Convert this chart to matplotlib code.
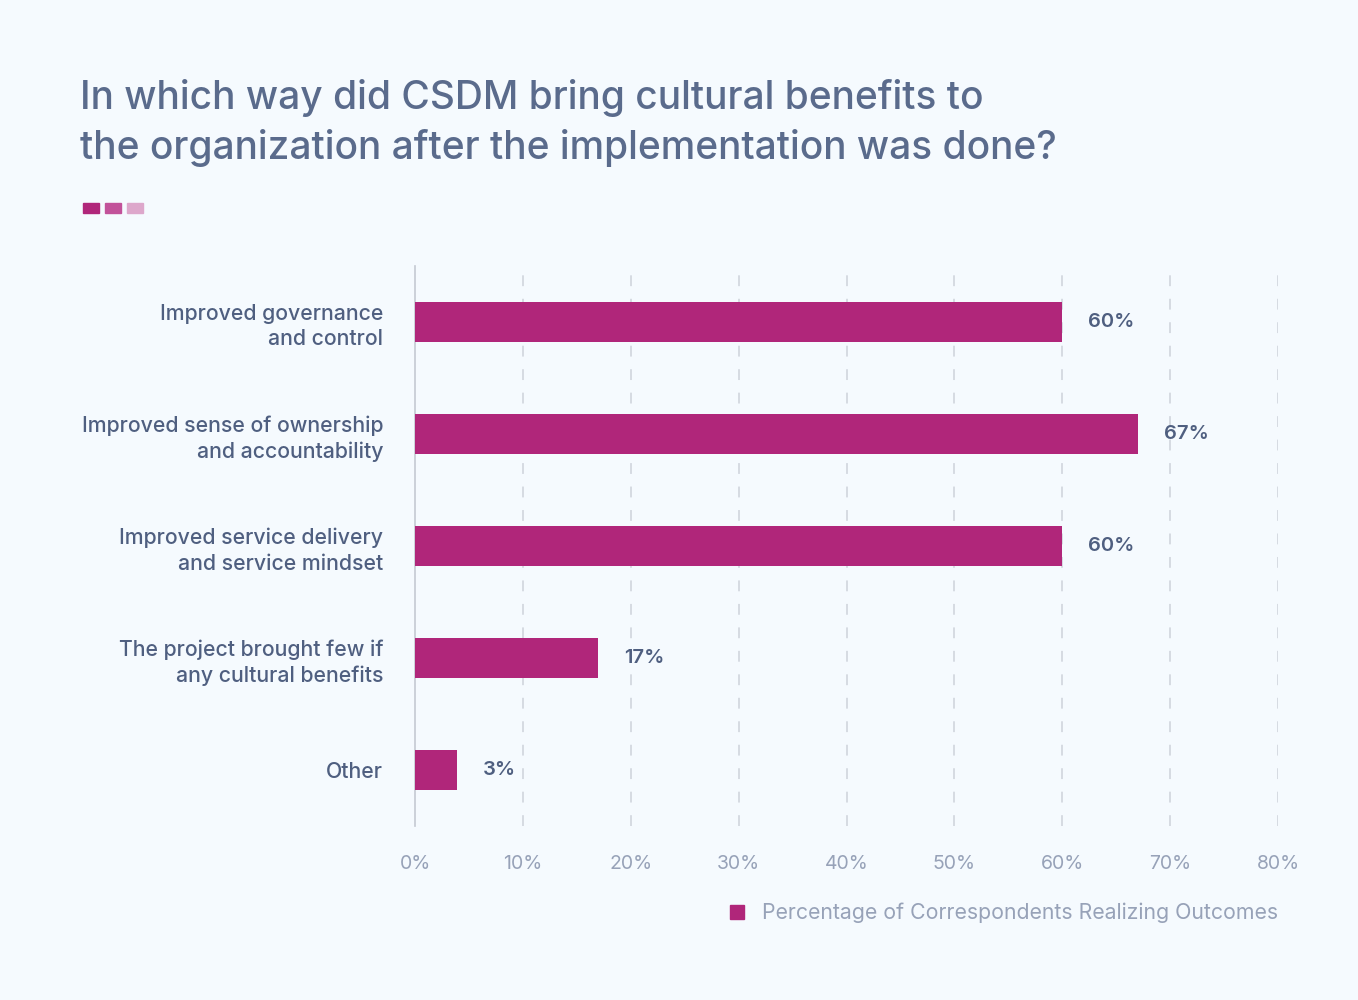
import matplotlib
matplotlib.use("Agg")
import matplotlib.pyplot as plt
from matplotlib.patches import Rectangle

categories = [
    "Improved governance\nand control",
    "Improved sense of ownership\nand accountability",
    "Improved service delivery\nand service mindset",
    "The project brought few if\nany cultural benefits",
    "Other",
]
values = [60, 67, 60, 17, 3.9]
value_labels = ["60%", "67%", "60%", "17%", "3%"]
xticks = [0, 10, 20, 30, 40, 50, 60, 70, 80]
xtick_labels = ["0%", "10%", "20%", "30%", "40%", "50%", "60%", "70%", "80%"]
series_name = "Percentage of Correspondents Realizing Outcomes"
title = "In which way did CSDM bring cultural benefits to\nthe organization after the implementation was done?"

BG = "#F5FAFE"
BAR = "#B0267A"
TITLE_C = "#5A6B8C"
LABEL_C = "#4F5F80"
TICK_C = "#97A2B8"
GRID_C = "#D3D8E0"

plt.rcParams["font.family"] = ["Inter", "DejaVu Sans"]

W, H = 1358, 1000
fig = plt.figure(figsize=(W / 100, H / 100), dpi=100, facecolor=BG)
ax = fig.add_axes([415 / W, 1 - 826 / H, (1278 - 415) / W, (826 - 266) / H])
ax.set_facecolor(BG)

ypos = list(range(len(categories)))
ax.barh(ypos, values, height=0.36, color=BAR, zorder=3)
ax.set_ylim(len(categories) - 0.5, -0.5)
ax.set_xlim(0, 80)

for y, v, lab in zip(ypos, values, value_labels):
    ax.text(v + 2.4, y, lab, va="center", ha="left", fontsize=14.5,
            color=LABEL_C, fontweight="semibold")

ax.set_yticks(ypos)
ax.set_yticklabels(categories, fontsize=15.3, color=LABEL_C, fontweight="medium",
                   linespacing=1.33)
for t in ax.get_yticklabels():
    t.set_multialignment("right")
ax.tick_params(axis="y", length=0, pad=23)

ax.set_xticks(xticks)
ax.set_xticklabels(xtick_labels, fontsize=14, color=TICK_C)
ax.tick_params(axis="x", length=0, pad=21)

for x in xticks[1:]:
    ax.axvline(x, color=GRID_C, lw=1.3, ls=(0, (6, 7)), zorder=1)

for s in ["top", "right", "bottom"]:
    ax.spines[s].set_visible(False)
ax.spines["left"].set_color("#C4C9D2")
ax.spines["left"].set_linewidth(1.2)

fig.text(80 / W, 1 - 123 / H, title, fontsize=28, color=TITLE_C,
         ha="left", va="center", linespacing=1.39, fontweight="medium")

deco_colors = ["#B0267A", "#C2529A", "#DDA7CB"]
for i, c in enumerate(deco_colors):
    fig.patches.append(Rectangle(((83 + 22 * i) / W, 1 - 213 / H), 16 / W, 10 / H,
                                 transform=fig.transFigure, color=c))

fig.patches.append(Rectangle((730 / W, 1 - 919 / H), 14 / W, 14 / H,
                             transform=fig.transFigure, color=BAR))
fig.text(762 / W, 1 - 913 / H, series_name, fontsize=15.3, color=TICK_C,
         ha="left", va="center")

fig.savefig("out.png", dpi=100, facecolor=BG)
